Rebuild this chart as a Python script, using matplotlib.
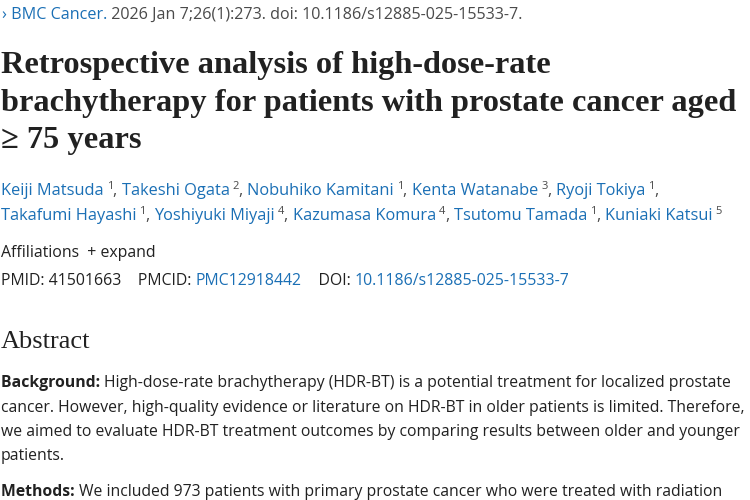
import matplotlib
matplotlib.use("Agg")
import matplotlib.pyplot as plt

W, H = 750, 500
BLUE = "#1a6fb5"
DARK = "#212121"
GRAY = "#4a4a4a"
SANS = ["Open Sans", "DejaVu Sans"]
SERIF = ["Liberation Serif", "DejaVu Serif"]

header = [("› BMC Cancer.", BLUE), (" 2026 Jan 7;26(1):273. doi: 10.1186/s12885-025-15533-7.", GRAY)]
title_lines = ["Retrospective analysis of high-dose-rate",
               "brachytherapy for patients with prostate cancer aged",
               "≥ 75 years"]
authors1 = [("Keiji Matsuda", "1"), ("Takeshi Ogata", "2"), ("Nobuhiko Kamitani", "1"),
            ("Kenta Watanabe", "3"), ("Ryoji Tokiya", "1")]
authors2 = [("Takafumi Hayashi", "1"), ("Yoshiyuki Miyaji", "4"), ("Kazumasa Komura", "4"),
            ("Tsutomu Tamada", "1"), ("Kuniaki Katsui", "5")]
body = [("Background:", "High-dose-rate brachytherapy (HDR-BT) is a potential treatment for localized prostate"),
        (None, "cancer. However, high-quality evidence or literature on HDR-BT in older patients is limited. Therefore,"),
        (None, "we aimed to evaluate HDR-BT treatment outcomes by comparing results between older and younger"),
        (None, "patients.")]
methods = ("Methods:", "We included 973 patients with primary prostate cancer who were treated with radiation")

fig = plt.figure(figsize=(7.5, 5), dpi=100)
fig.patch.set_facecolor("white")
fig.canvas.draw()
R = fig.canvas.get_renderer()

def put(x, y, s, color=DARK, size=11, weight="normal", family=SANS):
    t = fig.text(x / W, 1 - y / H, s, color=color, fontsize=size, fontweight=weight,
                 family=family, va="baseline", ha="left")
    return x + t.get_window_extent(R).width

# header
x = put(2, 19, header[0][0], BLUE, 11.6)
put(x, 19, header[1][0], GRAY, 11.6)

# title
for i, line in enumerate(title_lines):
    put(1, 73 + i * 37.5, line, DARK, 23.3, "bold", SERIF)

def author_line(y, items, trailing):
    x = 1
    for i, (name, sup) in enumerate(items):
        x = put(x, y, name, BLUE, 11.8)
        x = put(x + 3, y - 6, sup, GRAY, 8)
        if i < len(items) - 1 or trailing:
            x = put(x, y, ", ", GRAY, 11.8)
    return x

author_line(195, authors1, True)
author_line(220, authors2, False)

x = put(1, 257, "Affiliations", DARK, 11.4)
put(x, 257, "  + expand", DARK, 11.4)
x = put(1, 285, "PMID: 41501663    PMCID: ", DARK, 11.4)
x = put(x, 285, "PMC12918442", BLUE, 11.4)
x = put(x, 285, "    DOI: ", DARK, 11.4)
put(x, 285, "10.1186/s12885-025-15533-7", BLUE, 11.4)

put(1, 348, "Abstract", DARK, 19, "normal", SERIF)

for i, (lab, txt) in enumerate(body):
    y = 387 + i * 24.5
    x = 1
    if lab:
        x = put(x, y, lab + " ", DARK, 11.3, "bold")
    put(x, y, txt, DARK, 11.3)

x = put(1, 496, methods[0] + " ", DARK, 11.3, "bold")
put(x, 496, methods[1], DARK, 11.3)

fig.savefig("out.png", dpi=100, facecolor="white")
